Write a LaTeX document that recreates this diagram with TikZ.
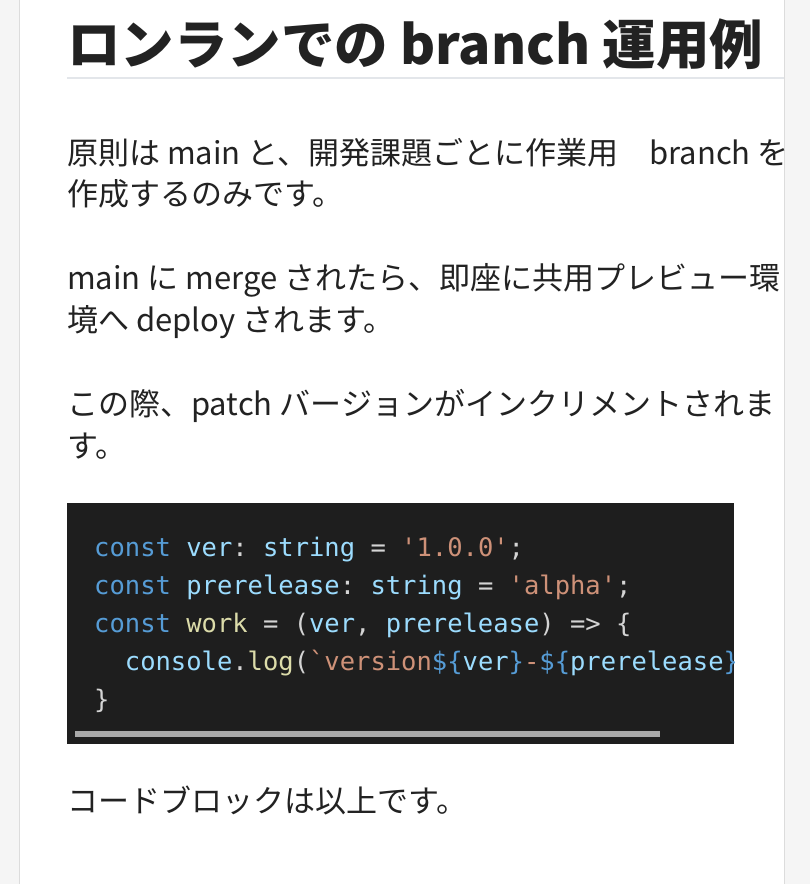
\documentclass[tikz,border=0pt]{standalone}
\usepackage{fontspec}
\newfontfamily\jp{Noto Sans CJK JP}
\newfontfamily\codefont{DejaVu Sans Mono}
\definecolor{pagebg}{HTML}{F5F5F5}
\definecolor{panelline}{HTML}{DCDCDC}
\definecolor{rulegray}{HTML}{E3E6EA}
\definecolor{ink}{HTML}{222222}
\definecolor{codebg}{HTML}{1E1E1E}
\definecolor{scrollgray}{HTML}{A9A9A9}
\definecolor{ckw}{HTML}{569CD6}
\definecolor{cvar}{HTML}{9CDCFE}
\definecolor{cstr}{HTML}{CE9178}
\definecolor{cfun}{HTML}{DCDCAA}
\definecolor{cpun}{HTML}{D4D4D4}
\tikzset{
  bodytext/.style={anchor=base west, inner sep=0pt, text=ink, font=\jp\fontsize{31}{31}\selectfont},
  titletext/.style={anchor=base west, inner sep=0pt, text=ink, font=\jp\bfseries\fontsize{53.5}{53.5}\selectfont},
  codeline/.style={anchor=base west, inner sep=0pt, text=cpun, font=\codefont\frenchspacing\fontsize{25.5}{25.5}\selectfont},
}
\newcommand{\KW}[1]{\textcolor{ckw}{#1}}
\newcommand{\VR}[1]{\textcolor{cvar}{#1}}
\newcommand{\ST}[1]{\textcolor{cstr}{#1}}
\newcommand{\FN}[1]{\textcolor{cfun}{#1}}
\begin{document}
\begin{tikzpicture}[x=1pt,y=-1pt]
\useasboundingbox (0,0) rectangle (810,884);
\fill[pagebg] (0,0) rectangle (810,884);
\fill[white] (20,0) rectangle (784,884);
\draw[panelline, line width=1.2pt] (19.6,0) -- (19.6,884);
\draw[panelline, line width=1.2pt] (784.4,0) -- (784.4,884);
\begin{scope}
\clip (20,0) rectangle (784,884);
\node[titletext] (title) at (67,64) {ロンランでの branch 運用例};
\draw[rulegray, line width=2pt] (67,78) -- (784,78);
\node[bodytext] (p1a) at (67,164) {原則は main と、開発課題ごとに作業用　branch を};
\node[bodytext] (p1b) at (67,205) {作成するのみです。};
\node[bodytext] (p2a) at (67,289) {main に merge されたら、即座に共用プレビュー環};
\node[bodytext] (p2b) at (67,331) {境へ deploy されます。};
\node[bodytext] (p3a) at (67,415) {この際、patch バージョンがインクリメントされま};
\node[bodytext] (p3b) at (67,457) {す。};
\node[bodytext] (endtext) at (67,812) {コードブロックは以上です。};
\end{scope}
\fill[codebg] (67,503) rectangle (734,744);
\begin{scope}
\clip (67,503) rectangle (734,744);
\node[codeline] (c1) at (94,556) {\KW{const} \VR{ver}: \VR{string} = \ST{'1.0.0'};};
\node[codeline] (c2) at (94,594) {\KW{const} \VR{prerelease}: \VR{string} = \ST{'alpha'};};
\node[codeline] (c3) at (94,632) {\KW{const} \FN{work} = (\VR{ver}, \VR{prerelease}) => \{};
\node[codeline] (c4) at (124.7,670) {\VR{console}.\FN{log}(\ST{`version}\KW{\$\{}\VR{ver}\KW{\}}\ST{-}\KW{\$\{}\VR{prerelease}\KW{\}}\ST{`});};
\node[codeline] (c5) at (94,708) {\}};
\fill[scrollgray] (75,731) rectangle (660,737);
\end{scope}
\end{tikzpicture}
\end{document}
